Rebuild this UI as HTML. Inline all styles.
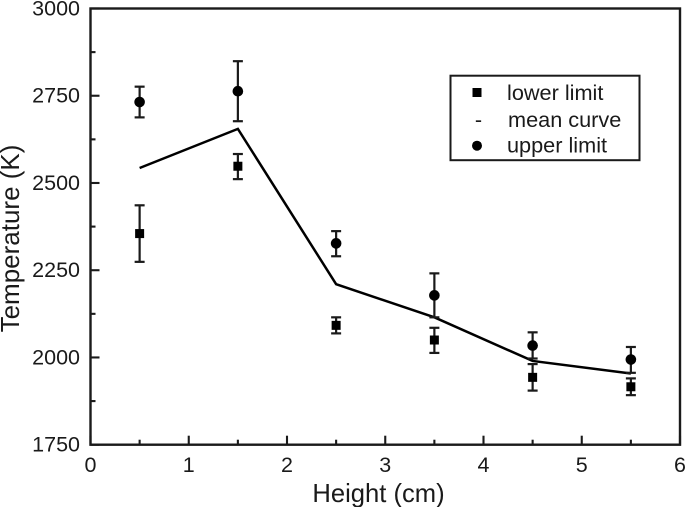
<!DOCTYPE html>
<html lang="en">
<head>
<meta charset="utf-8">
<title>Temperature vs Height</title>
<style>
html,body{margin:0;padding:0;background:#fff;width:685px;height:507px;overflow:hidden}
svg{display:block;font-family:"Liberation Sans",Arial,sans-serif;fill:#1a1a1a}
</style>
</head>
<body>
<svg id="chart" width="685" height="507" viewBox="0 0 685 507" xmlns="http://www.w3.org/2000/svg">
  <g id="marks"></g>
  <g id="axes"></g>
  <text x="378.5" y="502" font-size="25.6" text-anchor="middle">Height (cm)</text>
  <text transform="translate(19,238.5) rotate(-90)" font-size="26" text-anchor="middle">Temperature (K)</text>
  <g>
    <rect x="450.5" y="75.7" width="189" height="84.5" fill="#fff" stroke="#1a1a1a" stroke-width="2"/>
    <rect x="472.5" y="88" width="9" height="9" fill="#000"/>
    <text x="507" y="100" font-size="21.7">lower limit</text>
    <text x="478.5" y="127" font-size="21.7" text-anchor="middle">-</text>
    <text x="508" y="127" font-size="21.7">mean curve</text>
    <circle cx="477" cy="145.7" r="5" fill="#000"/>
    <text x="507" y="152.5" font-size="21.7">upper limit</text>
  </g>
</svg>
<script>
const heights = [0.5, 1.5, 2.5, 3.5, 4.5, 5.5];
const meanCurve = [2543, 2655, 2210, 2115, 1990, 1954];
const upperLimit = [2732, 2763, 2327, 2178, 2034, 1994];
const upperErrTop = [2776, 2849, 2362, 2241, 2072, 2030];
const upperErrBottom = [2688, 2677, 2290, 2115, 1997, 1956];
const lowerLimit = [2355, 2548, 2092, 2050, 1943, 1916];
const lowerErrTop = [2436, 2583, 2115, 2085, 1981, 1940];
const lowerErrBottom = [2274, 2511, 2069, 2013, 1905, 1892];
const xTickLabels = [0, 1, 2, 3, 4, 5, 6];
const yTickLabels = [1750, 2000, 2250, 2500, 2750, 3000];

const NS = 'http://www.w3.org/2000/svg';
const L = 90.5, R = 680, T = 8.5, B = 444.7;
const xScale = function (v) { return L + (v - 0) / 6 * (R - L); };
const yScale = function (v) { return B - (v - 1750) / 1250 * (B - T); };
const marks = document.getElementById('marks');
const axes = document.getElementById('axes');

function make(tag, parent, attrs) {
  const e = document.createElementNS(NS, tag);
  Object.keys(attrs).forEach(function (k) { e.setAttribute(k, attrs[k]); });
  parent.appendChild(e);
  return e;
}
function seg(parent, x1, y1, x2, y2, w) {
  return make('line', parent, { x1: x1, y1: y1, x2: x2, y2: y2, stroke: '#1a1a1a', 'stroke-width': w });
}

// mean curve
const meanLine = make('polyline', marks, {
  points: heights.map(function (h, i) { return xScale(h) + ',' + yScale(meanCurve[i]); }).join(' '),
  fill: 'none', stroke: '#000', 'stroke-width': 2.5, 'stroke-linejoin': 'miter'
});



// error bars and points
heights.forEach(function (h, i) {
  const x = xScale(h);

  const upGroup = make('g', marks, {});
  
  
  seg(upGroup, x, yScale(upperErrTop[i]), x, yScale(upperErrBottom[i]), 2.2);
  seg(upGroup, x - 5, yScale(upperErrTop[i]), x + 5, yScale(upperErrTop[i]), 2.2);
  seg(upGroup, x - 5, yScale(upperErrBottom[i]), x + 5, yScale(upperErrBottom[i]), 2.2);
  make('circle', upGroup, { cx: x, cy: yScale(upperLimit[i]), r: 5.3, fill: '#000' });

  const lowGroup = make('g', marks, {});
  
  
  seg(lowGroup, x, yScale(lowerErrTop[i]), x, yScale(lowerErrBottom[i]), 2.2);
  seg(lowGroup, x - 5, yScale(lowerErrTop[i]), x + 5, yScale(lowerErrTop[i]), 2.2);
  seg(lowGroup, x - 5, yScale(lowerErrBottom[i]), x + 5, yScale(lowerErrBottom[i]), 2.2);
  make('rect', lowGroup, { x: x - 4.5, y: yScale(lowerLimit[i]) - 4.5, width: 9, height: 9, fill: '#000' });
});

// frame
const frame = make('rect', axes, { x: L, y: T, width: R - L, height: B - T, fill: 'none', stroke: '#1a1a1a', 'stroke-width': 2.4 });



// x ticks
xTickLabels.forEach(function (v, i) {
  const x = xScale(v);
  const tick = seg(axes, x, B, x, B - 9, 2.1);
  
  
  const label = make('text', axes, { x: x, y: 472, 'font-size': 21.5, 'text-anchor': 'middle' });
  label.textContent = v;
  
  
  if (i < xTickLabels.length - 1) {
    const mid = (v + xTickLabels[i + 1]) / 2;
    const minor = seg(axes, xScale(mid), B, xScale(mid), B - 5, 2.1);
    
    
  }
});

// y ticks
yTickLabels.forEach(function (v, i) {
  const y = yScale(v);
  const tick = seg(axes, L, y, L + 9, y, 2.1);
  
  
  const label = make('text', axes, { x: 80, y: y + 7, 'font-size': 21.5, 'text-anchor': 'end' });
  label.textContent = v;
  
  
  if (i < yTickLabels.length - 1) {
    const mid = (v + yTickLabels[i + 1]) / 2;
    const minor = seg(axes, L, yScale(mid), L + 5, yScale(mid), 2.1);
    
    
  }
});
</script>
</body>
</html>
